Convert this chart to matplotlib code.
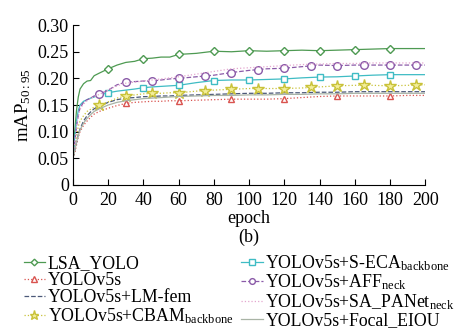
import matplotlib
matplotlib.use('Agg')
import matplotlib.pyplot as plt
import numpy as np

plt.rcParams['font.family'] = ['Liberation Serif', 'DejaVu Serif']
plt.rcParams['mathtext.fontset'] = 'custom'
plt.rcParams['mathtext.rm'] = 'Liberation Serif'
plt.rcParams['mathtext.it'] = 'Liberation Serif:italic'

epoch = [0, 1, 2, 3, 4, 6, 8, 10, 12, 15, 20, 25, 30, 35, 40, 45, 50, 55, 60,
         70, 80, 90, 100, 110, 120, 130, 140, 150, 160, 170, 180, 190, 200]

lsa_yolo = [0.05, 0.10, 0.14, 0.165, 0.18, 0.19, 0.195, 0.196, 0.205, 0.21, 0.218,
            0.225, 0.23, 0.232, 0.237, 0.238, 0.24, 0.24, 0.245,
            0.247, 0.251, 0.250, 0.252, 0.251, 0.252, 0.253, 0.252, 0.253, 0.254,
            0.255, 0.256, 0.256, 0.256]
yolov5s = [0.05, 0.06, 0.075, 0.09, 0.10, 0.112, 0.12, 0.127, 0.133, 0.138, 0.144,
           0.149, 0.153, 0.155, 0.156, 0.157, 0.157, 0.158, 0.158,
           0.159, 0.160, 0.161, 0.161, 0.161, 0.162, 0.164, 0.166, 0.167, 0.167,
           0.167, 0.167, 0.168, 0.168]
lm_fem = [0.05, 0.065, 0.08, 0.095, 0.105, 0.12, 0.13, 0.137, 0.143, 0.148, 0.155,
          0.160, 0.163, 0.164, 0.1657, 0.166, 0.167, 0.167, 0.168,
          0.169, 0.170, 0.171, 0.172, 0.172, 0.173, 0.173, 0.174, 0.174, 0.175,
          0.175, 0.175, 0.175, 0.175]
cbam = [0.05, 0.07, 0.09, 0.11, 0.12, 0.13, 0.138, 0.142, 0.146, 0.15, 0.156,
        0.163, 0.167, 0.169, 0.171, 0.172, 0.172, 0.173, 0.173,
        0.176, 0.178, 0.1795, 0.181, 0.181, 0.181, 0.182, 0.184, 0.186, 0.187,
        0.187, 0.186, 0.187, 0.188]
s_eca = [0.05, 0.09, 0.12, 0.14, 0.15, 0.157, 0.16, 0.163, 0.165, 0.169, 0.173,
         0.176, 0.178, 0.180, 0.1825, 0.184, 0.185, 0.186, 0.187,
         0.192, 0.196, 0.197, 0.197, 0.198, 0.199, 0.201, 0.2025, 0.203, 0.2045,
         0.206, 0.207, 0.207, 0.207]
aff = [0.05, 0.08, 0.11, 0.13, 0.145, 0.155, 0.16, 0.163, 0.167, 0.170, 0.178,
       0.188, 0.193, 0.194, 0.195, 0.195, 0.197, 0.199, 0.200,
       0.203, 0.206, 0.211, 0.215, 0.218, 0.219, 0.222, 0.225, 0.224, 0.225,
       0.225, 0.225, 0.225, 0.225]
sa_panet = [0.05, 0.08, 0.11, 0.13, 0.142, 0.152, 0.158, 0.162, 0.166, 0.170, 0.178,
            0.186, 0.191, 0.193, 0.195, 0.197, 0.199, 0.201, 0.203,
            0.208, 0.213, 0.218, 0.220, 0.222, 0.224, 0.226, 0.227, 0.228, 0.228,
            0.229, 0.229, 0.229, 0.229]
focal_eiou = [0.05, 0.065, 0.08, 0.093, 0.103, 0.116, 0.125, 0.132, 0.138, 0.143, 0.150,
              0.155, 0.158, 0.160, 0.162, 0.163, 0.164, 0.165, 0.166,
              0.167, 0.168, 0.168, 0.169, 0.169, 0.170, 0.170, 0.171, 0.171, 0.172,
              0.172, 0.172, 0.172, 0.172]

# epochs where markers sit
mk_20 = [20, 40, 60, 80, 100, 120, 140, 160, 180]
mk_15 = [15, 30, 45, 60, 75, 90, 105, 120, 135, 150, 165, 180, 195]
mk_30 = [30, 60, 90, 120, 150, 180]

series = [
    ('LSA_YOLO', lsa_yolo, '#4e9a52', '-', 'D', mk_20, 'white', 4.5),
    ('YOLOv5s', yolov5s, '#d9534f', ':', '^', mk_30, 'white', 5),
    ('YOLOv5s+LM-fem', lm_fem, '#4b5878', '--', None, None, None, 0),
    (r'YOLOv5s+CBAM$_{\mathrm{backbone}}$', cbam, '#c9c23a', ':', '*', mk_15, '#f3ee9a', 9),
    (r'YOLOv5s+S-ECA$_{\mathrm{backbone}}$', s_eca, '#3fbcc4', '-', 's', mk_20, 'white', 5),
    (r'YOLOv5s+AFF$_{\mathrm{neck}}$', aff, '#8a5aa8', '--', 'o', mk_15, 'white', 5.5),
    (r'YOLOv5s+SA_PANet$_{\mathrm{neck}}$', sa_panet, '#e4a6cf', ':', None, None, None, 0),
    ('YOLOv5s+Focal_EIOU', focal_eiou, '#a9b4a6', '-', None, None, None, 0),
]

fig = plt.figure(figsize=(4.74, 3.35), dpi=100)
ax = fig.add_axes([0.154, 0.448, 0.743, 0.477])

handles = []
for name, vals, col, ls, mk, mk_ep, fc, ms in series:
    ax.plot(epoch, vals, color=col, ls=ls, lw=0.9)
    if mk is not None:
        ax.plot(mk_ep, np.interp(mk_ep, epoch, vals), ls='none', marker=mk,
                ms=ms, mfc=fc, mec=col, mew=1.0)
    h, = ax.plot([], [], color=col, ls=ls, lw=0.9, marker=mk if mk else '',
                 ms=ms * 0.75, mfc=fc, mec=col, mew=1.0, label=name)
    handles.append(h)

ax.set_xlim(0, 200)
ax.set_ylim(0, 0.30)
ax.set_xticks(range(0, 201, 20))
ax.set_yticks([0, 0.05, 0.10, 0.15, 0.20, 0.25, 0.30])
ax.set_yticklabels(['0', '0.05', '0.10', '0.15', '0.20', '0.25', '0.30'])
ax.spines['top'].set_visible(False)
ax.spines['right'].set_visible(False)
ax.tick_params(direction='in', labelsize=13, length=4, width=0.8, pad=3)
ax.tick_params(axis='x', pad=5)
ax.set_xlabel('epoch', fontsize=13, labelpad=1)
ax.set_ylabel(r'mAP$_{50\mathrm{:}95}$', fontsize=13.5, labelpad=3)
fig.text(0.525, 0.293, '(b)', fontsize=13, ha='center', va='center')

fig.legend(handles=handles, ncol=2, loc='upper left', bbox_to_anchor=(0.05, 0.245),
           frameon=False, fontsize=12.8, handlelength=1.2, handletextpad=0.15,
           labelspacing=0.0, columnspacing=0.45, borderaxespad=0, borderpad=0)

fig.savefig('out.png', dpi=100)
